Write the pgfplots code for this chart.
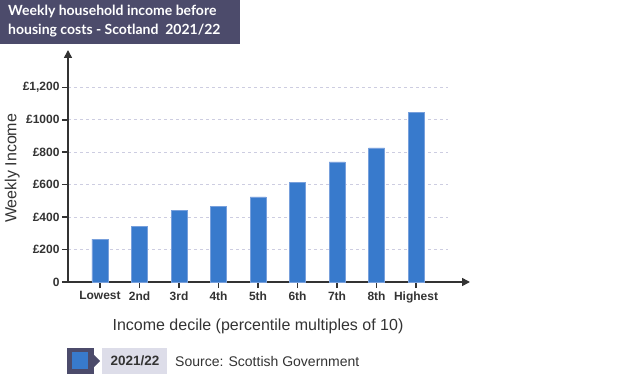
\documentclass[border=0pt]{standalone}
\usepackage{pgfplots}
\pgfplotsset{compat=1.18}
\usepackage{fontspec}
\setmainfont{Liberation Sans}
\newfontfamily\titlefont{Lato}
\usetikzlibrary{arrows.meta}
\definecolor{barblue}{RGB}{56,122,204}
\definecolor{baredge}{RGB}{120,160,220}
\definecolor{titlebg}{RGB}{76,75,107}
\definecolor{legbg}{RGB}{221,221,233}
\definecolor{axisgray}{RGB}{51,51,51}
\definecolor{gridcol}{RGB}{205,205,225}
\begin{document}
\begin{tikzpicture}
\useasboundingbox (0,0) rectangle (624pt,-374pt);
\fill[titlebg] (0,0) rectangle (240pt,-44pt);
\node[anchor=north west, text=white, font=\titlefont\bfseries\fontsize{14}{18.5}\selectfont, align=left, inner sep=0] at (8pt,-5pt) {Weekly household income before\\housing costs - Scotland\ \ 2021/22};
\begin{axis}[
  at={(68pt,-282pt)}, anchor=south west,
  scale only axis, width=380pt, height=232pt,
  xmin=-0.81, xmax=8.81, ymin=0, ymax=1430,
  axis lines=left,
  axis line style={line width=1.6pt, draw=axisgray},
  x axis line style={shorten >=-22pt, -{Triangle[length=8pt,width=8pt]}},
  y axis line style={-{Triangle[length=8pt,width=8pt]}},
  xtick={0,...,8},
  xticklabels={Lowest,2nd,3rd,4th,5th,6th,7th,8th,Highest},
  ytick={0,200,...,1200},
  yticklabels={0,£200,£400,£600,£800,£1000,{£1,200}},
  tick align=outside, major tick length=6pt,
  tick style={line width=1.6pt, draw=axisgray},
  ymajorgrids, grid style={dashed, draw=gridcol, line width=0.6pt},
  ticklabel style={font=\bfseries\fontsize{12}{13}\selectfont, text=axisgray},
  yticklabel style={xshift=1pt},
  xlabel={Income decile (percentile multiples of 10)},
  xlabel style={at={(axis description cs:0.5,0)}, anchor=center, yshift=-44pt, font=\fontsize{16}{18}\selectfont, text=axisgray},
  ylabel={Weekly Income},
  ylabel style={at={(axis description cs:-0.147,0.49)}, anchor=center, font=\fontsize{16}{18}\selectfont, text=axisgray},
  clip=false,
]
\addplot[ybar, bar width=16pt, fill=barblue, draw=baredge, line width=0.6pt] coordinates {
(0,265) (1,345) (2,440) (3,465) (4,525) (5,615) (6,740) (7,827) (8,1045)};
\end{axis}
\fill[titlebg] (67pt,-348pt) rectangle (94pt,-374pt);
\fill[barblue] (72pt,-352pt) rectangle (88pt,-369pt);
\fill[titlebg] (94pt,-355pt) -- (100pt,-361pt) -- (94pt,-367pt) -- cycle;
\fill[legbg] (102pt,-348pt) rectangle (167pt,-374pt);
\node[font=\bfseries\fontsize{13.5}{15}\selectfont, text=axisgray] at (135pt,-361pt) {2021/22};
\node[anchor=west, inner sep=0, font=\fontsize{14}{16}\selectfont, text=axisgray] at (175pt,-361pt) {Source: Scottish Government};
\end{tikzpicture}
\end{document}
